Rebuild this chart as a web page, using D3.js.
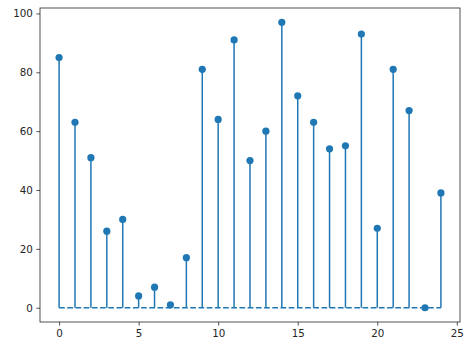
<!DOCTYPE html>
<html>
<head>
<meta charset="utf-8">
<script src="https://cdn.jsdelivr.net/npm/d3@7"></script>
<style>
  body { margin: 0; background: #fff; }
  svg { display: block; }
  .tick text { font-family: "DejaVu Sans", sans-serif; font-size: 10.3px; fill: #262626; }
</style>
</head>
<body>
<div id="chart"></div>
<script>
var width = 474, height = 351;
var margin = {top: 8, right: 14, bottom: 29, left: 40};

var xs = d3.range(0, 25);
var values = [85, 63, 51, 26, 30, 4, 7, 1, 17, 81, 64, 91, 50, 60, 97, 72, 63, 54, 55, 93, 27, 81, 67, 0, 39];
var xTicks = [0, 5, 10, 15, 20, 25];
var yTicks = [0, 20, 40, 60, 80, 100];

var color = "#1f77b4";

var svg = d3.select("#chart").append("svg")
  .attr("width", width)
  .attr("height", height);

var x = d3.scaleLinear()
  .domain([-1.2, 25.2])
  .range([margin.left, width - margin.right]);

var y = d3.scaleLinear()
  .domain([-4.85, 101.85])
  .range([height - margin.bottom, margin.top]);

// stems
svg.selectAll(".stem")
  .data(xs)
  .enter().append("line")
    .attr("class", "stem")
    .attr("x1", function(d) { return x(d); })
    .attr("x2", function(d) { return x(d); })
    .attr("y1", y(0))
    .attr("y2", function(d, i) { return y(values[i]); })
    .attr("stroke", color)
    .attr("stroke-width", 1.5);

// baseline
svg.append("line")
  .attr("x1", x(d3.min(xs)))
  .attr("x2", x(d3.max(xs)))
  .attr("y1", y(0))
  .attr("y2", y(0))
  .attr("stroke", color)
  .attr("stroke-width", 1.5)
  .attr("stroke-dasharray", "5.7,2.5");

// markers
svg.selectAll(".dot")
  .data(xs)
  .enter().append("circle")
    .attr("class", "dot")
    .attr("cx", function(d) { return x(d); })
    .attr("cy", function(d, i) { return y(values[i]); })
    .attr("r", 3.6)
    .attr("fill", color);

// axes
var xAxis = svg.append("g")
  .attr("transform", "translate(0," + (height - margin.bottom) + ")")
  .call(d3.axisBottom(x).tickValues(xTicks).tickSize(3.6).tickPadding(3.6));

var yAxis = svg.append("g")
  .attr("transform", "translate(" + margin.left + ",0)")
  .call(d3.axisLeft(y).tickValues(yTicks).tickSize(3.6).tickPadding(3.6));

[xAxis, yAxis].forEach(function(g) {
  g.select(".domain").remove();
  g.selectAll(".tick line").attr("stroke", "#262626").attr("stroke-width", 0.8);
});

// frame
svg.append("rect")
  .attr("x", margin.left)
  .attr("y", margin.top)
  .attr("width", width - margin.left - margin.right)
  .attr("height", height - margin.top - margin.bottom)
  .attr("fill", "none")
  .attr("stroke", "#262626")
  .attr("stroke-width", 0.8);
</script>
</body>
</html>
